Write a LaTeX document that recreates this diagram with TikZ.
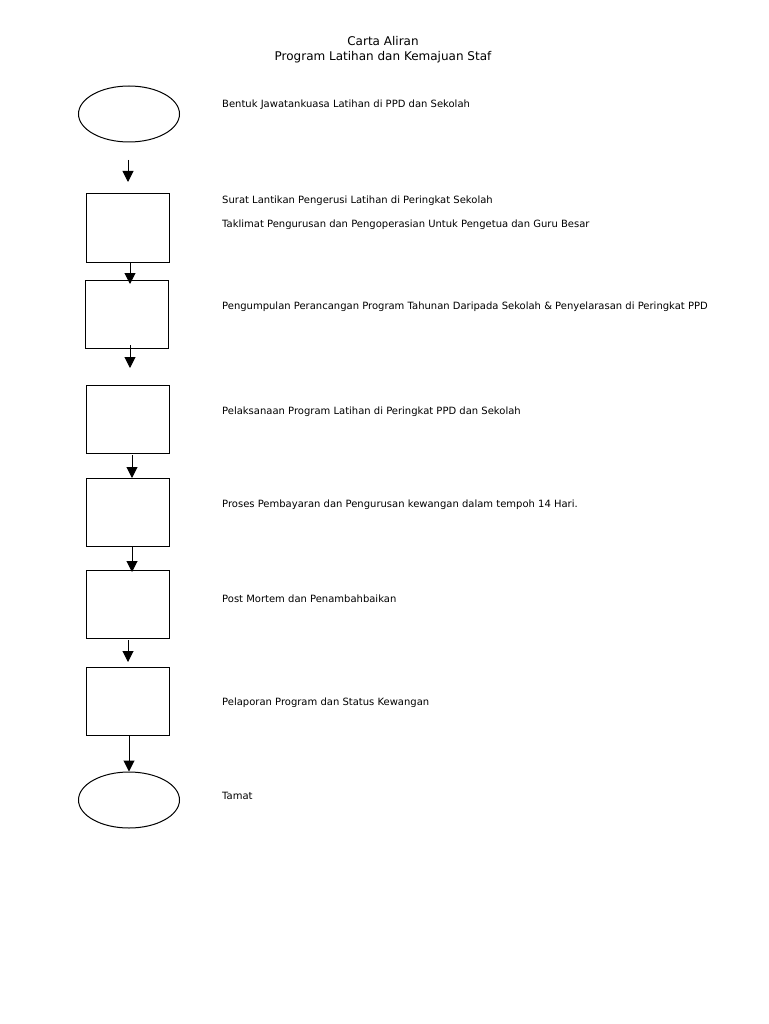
\documentclass[tikz,border=0pt]{standalone}
\usepackage{fontspec}
\setmainfont{DejaVu Sans}
\usetikzlibrary{shapes.geometric,arrows.meta}
\begin{document}
\begin{tikzpicture}[x=1pt,y=-1pt,
  box/.style={draw,line width=1pt,minimum width=83pt,minimum height=68pt,inner sep=0pt},
  oval/.style={draw,ellipse,line width=1pt,minimum width=101pt,minimum height=56pt,inner sep=0pt},
  lbl/.style={anchor=west,font=\fontsize{10}{11}\selectfont,inner sep=0pt},
  arr/.style={-{Triangle[length=11pt,width=11pt]},line width=1pt}]
\useasboundingbox (0,0) rectangle (768,1024);
\node[font=\fontsize{12}{14}\selectfont] (t1) at (383,41) {Carta Aliran};
\node[font=\fontsize{12}{14}\selectfont] (t2) at (383,57) {Program Latihan dan Kemajuan Staf};
\node[oval] (e1) at (129,114) {};
\node[box] (b1) at (127.5,228) {};
\node[box] (b2) at (127,314) {};
\node[box] (b3) at (127.5,419) {};
\node[box] (b4) at (127.5,512.5) {};
\node[box] (b5) at (127.5,604.5) {};
\node[box] (b6) at (127.5,701.5) {};
\node[oval] (e2) at (129,800) {};
\coordinate (a1s) at (128,160); \coordinate (a1e) at (128,182);
\coordinate (a2s) at (130,262); \coordinate (a2e) at (130,284);
\coordinate (a3s) at (130,345); \coordinate (a3e) at (130,368);
\coordinate (a4s) at (132,455); \coordinate (a4e) at (132,478);
\coordinate (a5s) at (132,547); \coordinate (a5e) at (132,572);
\coordinate (a6s) at (128,640); \coordinate (a6e) at (128,662);
\coordinate (a7s) at (129,735);
\draw[arr] (a1s) -- (a1e);
\draw[arr] (a2s) -- (a2e);
\draw[arr] (a3s) -- (a3e);
\draw[arr] (a4s) -- (a4e);
\draw[arr] (a5s) -- (a5e);
\draw[arr] (a6s) -- (a6e);
\draw[arr] (a7s) -- (e2.north);
\node[lbl] (l1) at (222,105) {Bentuk Jawatankuasa Latihan di PPD dan Sekolah};
\node[lbl] (l2) at (222,201) {Surat Lantikan Pengerusi Latihan di Peringkat Sekolah};
\node[lbl] (l3) at (222,225) {Taklimat Pengurusan dan Pengoperasian Untuk Pengetua dan Guru Besar};
\node[lbl] (l4) at (222,307) {Pengumpulan Perancangan Program Tahunan Daripada Sekolah \& Penyelarasan di Peringkat PPD};
\node[lbl] (l5) at (222,412) {Pelaksanaan Program Latihan di Peringkat PPD dan Sekolah};
\node[lbl] (l6) at (222,505) {Proses Pembayaran dan Pengurusan kewangan dalam tempoh 14 Hari.};
\node[lbl] (l7) at (222,599) {Post Mortem dan Penambahbaikan};
\node[lbl] (l8) at (222,703) {Pelaporan Program dan Status Kewangan};
\node[lbl] (l9) at (222,796) {Tamat};
\end{tikzpicture}
\end{document}
